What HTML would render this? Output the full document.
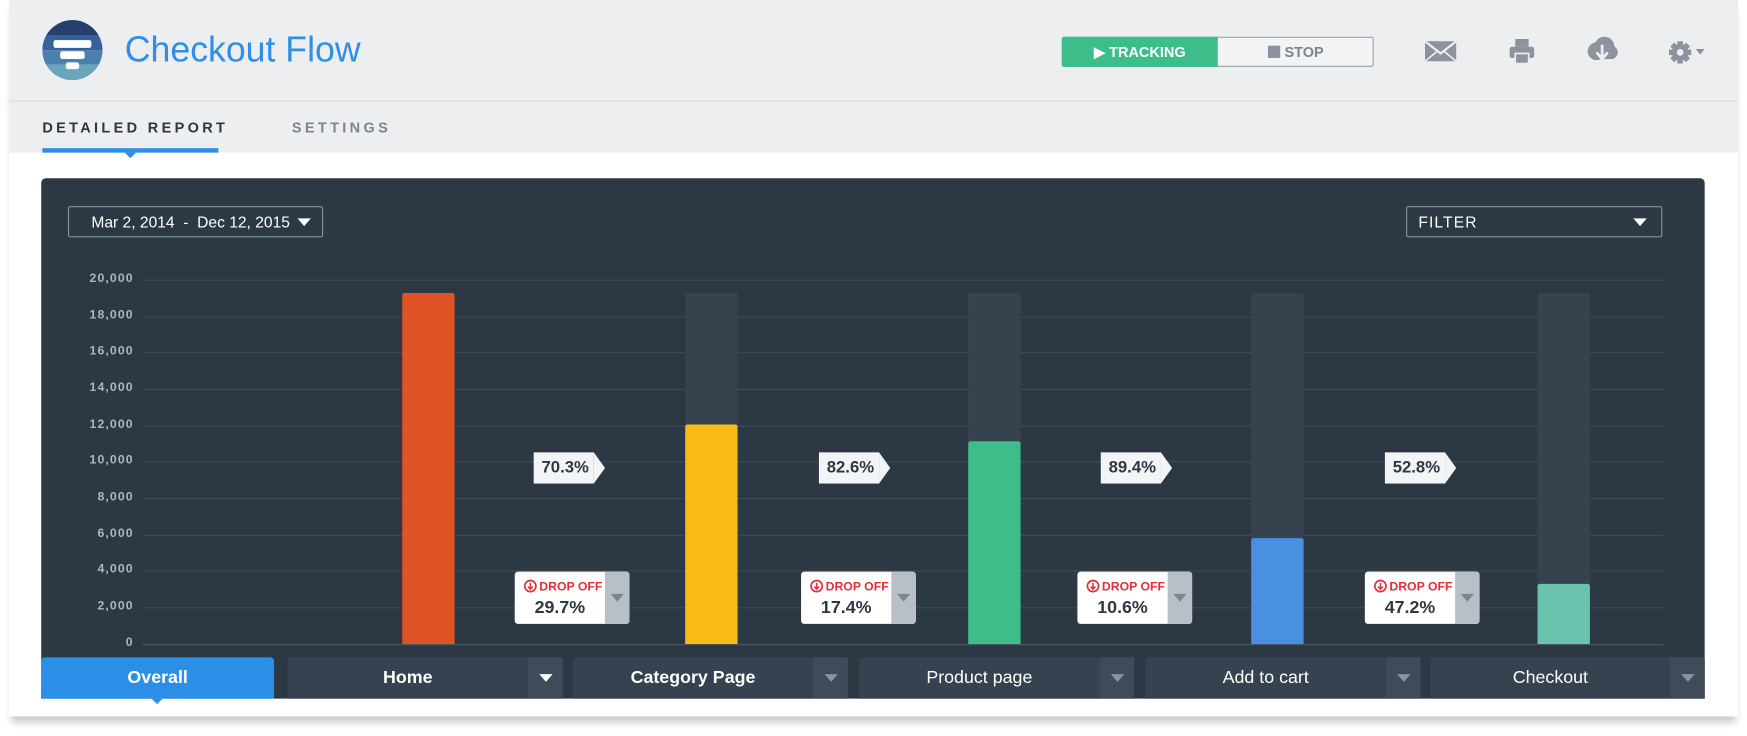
<!DOCTYPE html>
<html><head><meta charset="utf-8"><style>
html,body{margin:0;padding:0;width:1747px;height:736px;overflow:hidden;background:#fff;}
#w{position:absolute;left:0;top:0;width:1568px;height:661px;transform:scale(1.11416);transform-origin:0 0;font-family:"Liberation Sans Narrow","Liberation Sans",sans-serif;}
.a{position:absolute;}
.card{left:8px;top:0;width:1552px;height:643px;background:#fff;box-shadow:0 8px 6px -2px #c9ccd1;}
.hdr{left:8px;top:0;width:1552px;height:137px;background:#edeef0;}
.sep{left:8px;top:90px;width:1552px;height:1px;background:#d9dce1;}
.panel{left:37px;top:160px;width:1493px;height:467px;background:#2d3845;border-radius:4px 4px 0 0;}
.yl{left:60px;width:60px;text-align:right;color:#aeb6c0;font-size:11px;font-weight:bold;letter-spacing:1px;}
.gl{left:128px;width:1365px;height:1px;background:#3f4b58;}
.bg{width:47px;background:#37424f;top:263px;height:315px;}
.tag{width:54px;height:28px;background:#f3f4f5;color:#2d3845;font-weight:bold;font-size:15px;line-height:28px;text-align:left;padding-left:7px;box-sizing:border-box;}
.tag:after{content:"";position:absolute;right:-10px;top:0;border-left:10px solid #f3f4f5;border-top:14px solid transparent;border-bottom:14px solid transparent;}
.dr{width:103px;height:47px;border-radius:3px;background:#fff;overflow:hidden;}
.dr .g{position:absolute;right:0;top:0;width:22px;height:47px;background:#b9bfc7;}
.dr .g:after{content:"";position:absolute;left:5px;top:20px;border-top:7px solid #7c8591;border-left:6px solid transparent;border-right:6px solid transparent;}
.dr .t{position:absolute;left:8px;top:7px;color:#e0303a;font-size:11px;font-weight:bold;white-space:nowrap;}
.dr .t svg{vertical-align:-2px;margin-right:2px;}
.dr .v{position:absolute;left:0;width:81px;text-align:center;top:24px;color:#2d3845;font-size:16px;font-weight:bold;}
.bt{top:590px;height:37px;background:#36424f;color:#fff;font-size:16px;line-height:37px;text-align:center;border-radius:3px 3px 0 0;}
.bt .d{position:absolute;right:0;top:0;width:31px;height:37px;background:#3f4b58;}
.bt .d:after{content:"";position:absolute;left:10px;top:15px;border-top:7px solid #8a939e;border-left:6px solid transparent;border-right:6px solid transparent;}
.bt .d.w:after{border-top-color:#fff;}
</style></head><body><div id="w">
<div class="a card"></div>
<div class="a hdr"></div>
<div class="a sep"></div>
<svg class="a" style="left:38px;top:18px" width="54" height="54" viewBox="0 0 54 54">
<defs><clipPath id="c"><circle cx="27" cy="27" r="27"/></clipPath></defs>
<g clip-path="url(#c)"><rect width="54" height="14" fill="#25416b"/><rect y="14" width="54" height="13" fill="#36609a"/><rect y="27" width="54" height="13" fill="#4a7fae"/><rect y="40" width="54" height="14" fill="#6aa5bb"/></g>
<rect x="10" y="18" width="34" height="7" rx="2" fill="#fff"/><rect x="16" y="28" width="22" height="7" rx="2" fill="#fff"/><rect x="21" y="38" width="12" height="6" rx="2" fill="#fff"/>
</svg>
<div class="a" style="left:112px;top:26px;font-size:32px;color:#2f8fe6;font-family:'Liberation Sans',sans-serif;">Checkout Flow</div>
<div class="a" style="left:953px;top:33px;width:280px;height:27px;border:1px solid #9aa2ac;border-radius:2px;box-sizing:border-box;background:#f2f3f4;"></div>
<div class="a" style="left:953px;top:33px;width:140px;height:27px;background:#3dbd8a;border-radius:2px 0 0 2px;color:#fff;font-size:13px;font-weight:bold;line-height:27px;text-align:center;">▶ TRACKING</div>
<div class="a" style="left:1093px;top:33px;width:140px;height:27px;color:#7b8490;font-size:13px;font-weight:bold;line-height:27px;text-align:center;"><span style="display:inline-block;width:11px;height:11px;background:#8a939e;vertical-align:-1px;margin-right:4px"></span>STOP</div>
<svg class="a" style="left:1278px;top:36px" width="30" height="20"><rect x="1" y="1" width="28" height="18" fill="#8a939e"/><path d="M1 1 L15 12 L29 1" stroke="#edeef0" stroke-width="2" fill="none"/><path d="M1 19 L12 10 M29 19 L18 10" stroke="#edeef0" stroke-width="1.5"/></svg>
<svg class="a" style="left:1354px;top:34px" width="24" height="24"><rect x="6" y="1" width="12" height="7" fill="#8a939e"/><rect x="1" y="8" width="22" height="10" rx="2" fill="#8a939e"/><rect x="6" y="14" width="12" height="9" fill="#8a939e" stroke="#edeef0" stroke-width="1.5"/></svg>
<svg class="a" style="left:1423px;top:32px" width="30" height="26"><circle cx="10" cy="14" r="8" fill="#8a939e"/><circle cx="17" cy="10" r="9" fill="#8a939e"/><circle cx="23" cy="15" r="6" fill="#8a939e"/><rect x="10" y="14" width="14" height="7" fill="#8a939e"/><path d="M15 8 V20 M10 15 L15 21 L20 15" stroke="#edeef0" stroke-width="2.5" fill="none"/></svg>
<svg class="a" style="left:1497px;top:36px" width="22" height="22" viewBox="0 0 22 22"><g fill="#8a939e" transform="translate(11 11)"><rect x="-2.5" y="-10" width="5" height="20"/><rect x="-2.5" y="-10" width="5" height="20" transform="rotate(45)"/><rect x="-2.5" y="-10" width="5" height="20" transform="rotate(90)"/><rect x="-2.5" y="-10" width="5" height="20" transform="rotate(135)"/><circle r="7.5"/></g><circle cx="11" cy="11" r="3" fill="#edeef0"/></svg>
<div class="a" style="left:1522px;top:44px;border-top:5px solid #8a939e;border-left:4px solid transparent;border-right:4px solid transparent;"></div>
<div class="a" style="left:38px;top:107px;font-size:13px;font-weight:bold;letter-spacing:3px;color:#2c3540;font-family:'Liberation Sans',sans-serif;">DETAILED REPORT</div>
<div class="a" style="left:262px;top:107px;font-size:13px;font-weight:bold;letter-spacing:3px;color:#7b8490;font-family:'Liberation Sans',sans-serif;">SETTINGS</div>
<div class="a" style="left:38px;top:133px;width:158px;height:4px;background:#2b8fe8;"></div>
<div class="a" style="left:112px;top:137px;border-top:5px solid #2b8fe8;border-left:5px solid transparent;border-right:5px solid transparent;"></div>
<div class="a panel"></div>
<div class="a" style="left:61px;top:185px;width:229px;height:28px;border:1px solid #8a939e;border-radius:2px;box-sizing:border-box;color:#fff;font-size:14px;line-height:26px;padding-left:20px;font-family:'Liberation Sans',sans-serif;">Mar 2, 2014 &nbsp;- &nbsp;Dec 12, 2015</div>
<div class="a" style="left:267px;top:196px;border-top:7px solid #fff;border-left:6px solid transparent;border-right:6px solid transparent;"></div>
<div class="a" style="left:1262px;top:185px;width:230px;height:28px;border:1px solid #8a939e;border-radius:2px;box-sizing:border-box;color:#fff;font-size:14px;line-height:26px;padding-left:10px;letter-spacing:1px;font-family:'Liberation Sans',sans-serif;">FILTER</div>
<div class="a" style="left:1466px;top:196px;border-top:7px solid #fff;border-left:6px solid transparent;border-right:6px solid transparent;"></div>
<div class="a gl" style="top:251px"></div><div class="a gl" style="top:284px"></div><div class="a gl" style="top:316px"></div><div class="a gl" style="top:349px"></div><div class="a gl" style="top:382px"></div><div class="a gl" style="top:414px"></div><div class="a gl" style="top:447px"></div><div class="a gl" style="top:480px"></div><div class="a gl" style="top:512px"></div><div class="a gl" style="top:545px"></div><div class="a gl" style="top:578px;background:#4a5663"></div>
<div class="a yl" style="top:244px">20,000</div><div class="a yl" style="top:277px">18,000</div><div class="a yl" style="top:309px">16,000</div><div class="a yl" style="top:342px">14,000</div><div class="a yl" style="top:375px">12,000</div><div class="a yl" style="top:407px">10,000</div><div class="a yl" style="top:440px">8,000</div><div class="a yl" style="top:473px">6,000</div><div class="a yl" style="top:505px">4,000</div><div class="a yl" style="top:538px">2,000</div><div class="a yl" style="top:571px">0</div>
<div class="a bg" style="left:615px"></div><div class="a bg" style="left:869px"></div><div class="a bg" style="left:1123px"></div><div class="a bg" style="left:1380px"></div>
<div class="a" style="left:361px;top:263px;width:47px;height:315px;background:#e05325;border-radius:2px 2px 0 0"></div>
<div class="a" style="left:615px;top:381px;width:47px;height:197px;background:#f8bb16;border-radius:2px 2px 0 0"></div>
<div class="a" style="left:869px;top:396px;width:47px;height:182px;background:#3dbd8a;border-radius:2px 2px 0 0"></div>
<div class="a" style="left:1123px;top:483px;width:47px;height:95px;background:#4a90e2;border-radius:2px 2px 0 0"></div>
<div class="a" style="left:1380px;top:524px;width:47px;height:54px;background:#6ac3ad;border-radius:2px 2px 0 0"></div>
<div class="a tag" style="left:479px;top:406px">70.3%</div>
<div class="a tag" style="left:735px;top:406px">82.6%</div>
<div class="a tag" style="left:988px;top:406px">89.4%</div>
<div class="a tag" style="left:1243px;top:406px">52.8%</div>
<div class="a dr" style="left:462px;top:513px"><div class="t"><svg width="12" height="12"><circle cx="6" cy="6" r="5" fill="none" stroke="#e0303a" stroke-width="1.5"/><path d="M6 3V8.5M3.8 6.5L6 8.8L8.2 6.5" stroke="#e0303a" stroke-width="1.4" fill="none"/></svg>DROP OFF</div><div class="v">29.7%</div><div class="g"></div></div>
<div class="a dr" style="left:719px;top:513px"><div class="t"><svg width="12" height="12"><circle cx="6" cy="6" r="5" fill="none" stroke="#e0303a" stroke-width="1.5"/><path d="M6 3V8.5M3.8 6.5L6 8.8L8.2 6.5" stroke="#e0303a" stroke-width="1.4" fill="none"/></svg>DROP OFF</div><div class="v">17.4%</div><div class="g"></div></div>
<div class="a dr" style="left:967px;top:513px"><div class="t"><svg width="12" height="12"><circle cx="6" cy="6" r="5" fill="none" stroke="#e0303a" stroke-width="1.5"/><path d="M6 3V8.5M3.8 6.5L6 8.8L8.2 6.5" stroke="#e0303a" stroke-width="1.4" fill="none"/></svg>DROP OFF</div><div class="v">10.6%</div><div class="g"></div></div>
<div class="a dr" style="left:1225px;top:513px"><div class="t"><svg width="12" height="12"><circle cx="6" cy="6" r="5" fill="none" stroke="#e0303a" stroke-width="1.5"/><path d="M6 3V8.5M3.8 6.5L6 8.8L8.2 6.5" stroke="#e0303a" stroke-width="1.4" fill="none"/></svg>DROP OFF</div><div class="v">47.2%</div><div class="g"></div></div>
<div class="a bt" style="left:37px;width:209px;background:#2b8fe8;font-weight:bold;">Overall</div>
<div class="a" style="left:136px;top:627px;border-top:5px solid #2b8fe8;border-left:5px solid transparent;border-right:5px solid transparent;"></div>
<div class="a bt" style="left:258px;width:247px;font-weight:bold;"><span style="margin-right:31px">Home</span><div class="d w"></div></div>
<div class="a bt" style="left:514px;width:247px;font-weight:bold;"><span style="margin-right:31px">Category Page</span><div class="d"></div></div>
<div class="a bt" style="left:771px;width:247px;"><span style="margin-right:31px">Product page</span><div class="d"></div></div>
<div class="a bt" style="left:1028px;width:247px;"><span style="margin-right:31px">Add to cart</span><div class="d"></div></div>
<div class="a bt" style="left:1284px;width:246px;"><span style="margin-right:31px">Checkout</span><div class="d"></div></div>
</div></body></html>
